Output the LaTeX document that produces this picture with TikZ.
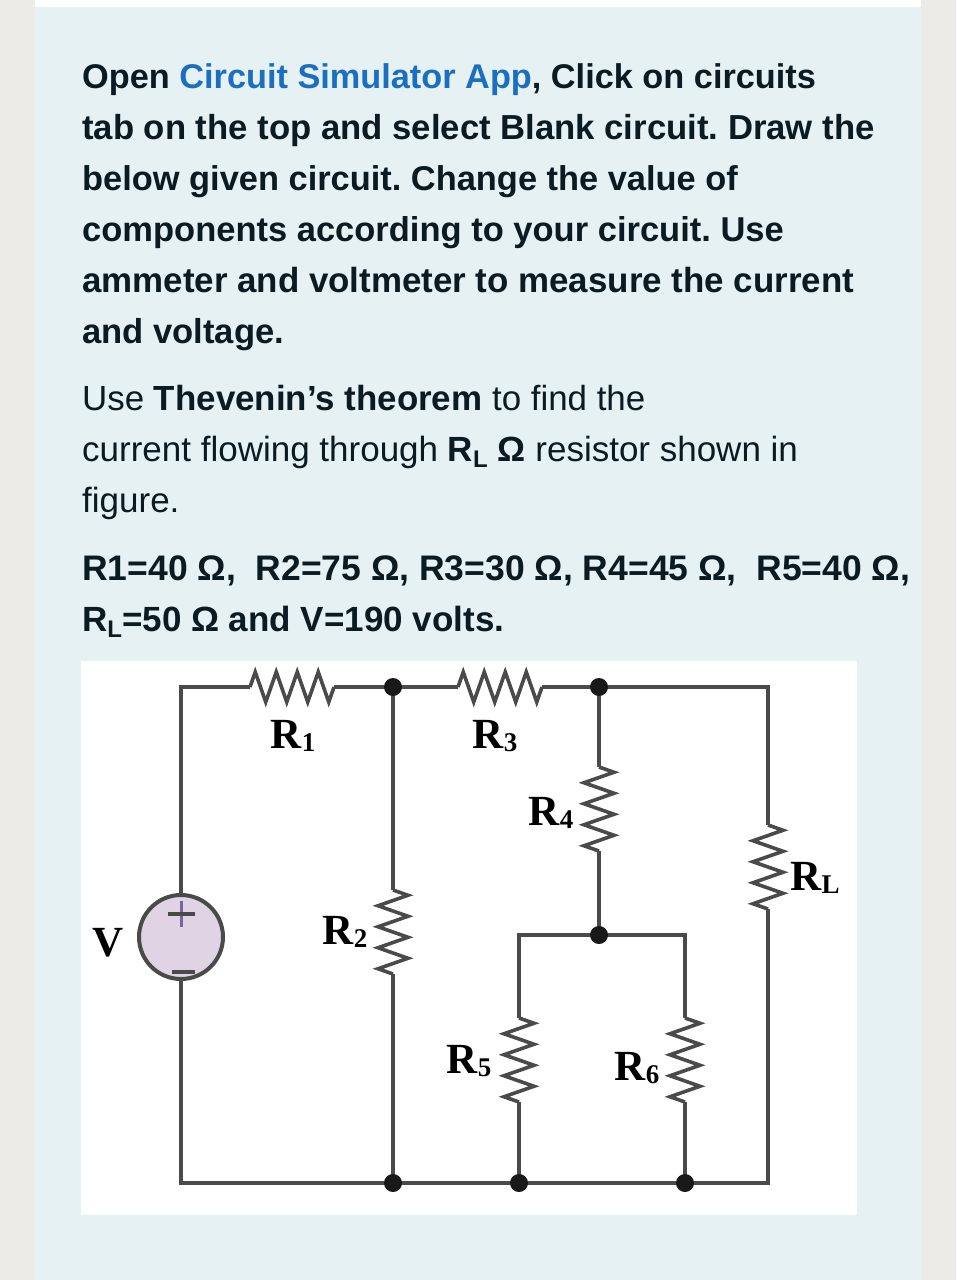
\documentclass[tikz,border=0pt]{standalone}
\usepackage{fontspec}
\setmainfont{Liberation Sans}
\newfontfamily\labelfont{Liberation Serif}
\usetikzlibrary{decorations.pathmorphing}
\frenchspacing
\definecolor{pagegrey}{HTML}{ECEBE7}
\definecolor{panelblue}{HTML}{E6F1F4}
\definecolor{linkblue}{HTML}{1B6FBE}
\definecolor{inkdark}{HTML}{0B1B22}
\definecolor{wiregrey}{HTML}{4A4A4A}
\definecolor{sourcefill}{HTML}{E0D4E4}
\definecolor{plusviolet}{HTML}{7566A0}
\tikzset{
  headline/.style={anchor=base west,inner sep=0pt,font=\fontsize{#1}{36}\selectfont\bfseries,text=inkdark},
  bodyline/.style={anchor=base west,inner sep=0pt,font=\fontsize{#1}{36}\selectfont,text=inkdark},
  wire/.style={draw=wiregrey,line width=4pt,line join=miter},
  zig/.style={draw=wiregrey,line width=3.6pt,decorate,decoration={zigzag,segment length=21pt,amplitude=15pt}},
  junction/.style={circle,fill=black!90,inner sep=0pt,minimum size=18pt},
  complabel/.style={inner sep=0pt,font=\labelfont\fontsize{43}{43}\selectfont\bfseries,text=black},
}
\newcommand{\compsub}[1]{\raisebox{-3pt}{\fontsize{27}{27}\selectfont #1}}
\newcommand{\loadsub}{\raisebox{-6pt}{\fontsize{24}{24}\selectfont L}}
\begin{document}
\begin{tikzpicture}[x=1pt,y=-1pt]
  \useasboundingbox (0,0) rectangle (956,1280);
  \fill[pagegrey] (0,0) rectangle (956,1280);
  \fill[white] (35,0) rectangle (921,7);
  \fill[panelblue] (35,7) rectangle (921,1280);
  \fill[white] (81,661) rectangle (857,1215);

  \node[headline=34.3] (line1) at (82,88) {Open \textcolor{linkblue}{Circuit Simulator App}, Click on circuits};
  \node[headline=34.7] (line2) at (82,139) {tab on the top and select Blank circuit. Draw the};
  \node[headline=34.4] (line3) at (82,190) {below given circuit. Change the value of};
  \node[headline=34.5] (line4) at (82,241) {components according to your circuit. Use};
  \node[headline=34.9] (line5) at (82,292) {ammeter and voltmeter to measure the current};
  \node[headline=34.6] (line6) at (82,343) {and voltage.};
  \node[bodyline=34.9] (line7) at (82,410) {Use \textbf{Thevenin’s theorem} to find the};
  \node[bodyline=35] (line8) at (82,461) {current flowing through \textbf{R\loadsub{} Ω} resistor shown in};
  \node[bodyline=35] (line9) at (82,512) {figure.};
  \node[headline=35.5] (line10) at (82,580) {R1=40 Ω,\ \ R2=75 Ω, R3=30 Ω, R4=45 Ω,\ \ R5=40 Ω,};
  \node[headline=35] (line11) at (82,631) {R\loadsub{}=50 Ω and V=190 volts.};

  \coordinate (topleft) at (181,687);
  \coordinate (topright) at (768,687);
  \coordinate (botleft) at (181,1183);
  \coordinate (botright) at (768,1183);
  \coordinate (boxleft) at (519,935);
  \coordinate (boxright) at (685,935);
  \coordinate (j1) at (393,687);
  \coordinate (j2) at (599,687);
  \coordinate (j3) at (599,935);
  \coordinate (j4) at (393,1183);
  \coordinate (j5) at (519,1183);
  \coordinate (j6) at (685,1183);

  \coordinate (r1a) at (250,687);
  \coordinate (r1b) at (334,687);
  \coordinate (r3a) at (458,687);
  \coordinate (r3b) at (542,687);
  \coordinate (r2a) at (393,890);
  \coordinate (r2b) at (393,974);
  \coordinate (r4a) at (599,767);
  \coordinate (r4b) at (599,851);
  \coordinate (rLa) at (768,825);
  \coordinate (rLb) at (768,909);
  \coordinate (r5a) at (519,1018);
  \coordinate (r5b) at (519,1102);
  \coordinate (r6a) at (685,1018);
  \coordinate (r6b) at (685,1102);

  \node[draw=wiregrey,line width=4pt,fill=sourcefill,circle,inner sep=0pt,minimum size=84pt] (src) at (181,937) {};

  \draw[wire] (src.north) -- (topleft) -- (r1a);
  \draw[wire] (r1b) -- (j1) -- (r3a);
  \draw[wire] (r3b) -- (j2) -- (topright) -- (rLa);
  \draw[wire] (j1) -- (r2a);
  \draw[wire] (r2b) -- (j4);
  \draw[wire] (j2) -- (r4a);
  \draw[wire] (r4b) -- (j3);
  \draw[wire] (rLb) -- (botright) -- (botleft) -- (src.south);
  \draw[wire] (r5a) -- (boxleft) -- (boxright) -- (r6a);
  \draw[wire] (r5b) -- (j5);
  \draw[wire] (r6b) -- (j6);

  \draw[zig] (r1a) -- (r1b);
  \draw[zig] (r3a) -- (r3b);
  \draw[zig] (r2a) -- (r2b);
  \draw[zig] (r4a) -- (r4b);
  \draw[zig] (rLa) -- (rLb);
  \draw[zig] (r5a) -- (r5b);
  \draw[zig] (r6a) -- (r6b);

  \foreach \j in {j1,j2,j3,j4,j5,j6}
    \node[junction] (dot\j) at (\j) {};

  \coordinate (plusw) at (168,914);
  \coordinate (pluse) at (195,914);
  \coordinate (plusn) at (181,901);
  \coordinate (pluss) at (181,927);
  \coordinate (minusw) at (172,972);
  \coordinate (minuse) at (195,972);
  \draw[draw=plusviolet,line width=3pt] (plusn) -- (pluss);
  \draw[draw=wiregrey,line width=3.5pt] (plusw) -- (pluse);
  \draw[draw=wiregrey,line width=4pt] (minusw) -- (minuse);

  \node[complabel] (labV) at (108,943) {V};
  \node[complabel] (labR1) at (293,736) {R\compsub{1}};
  \node[complabel] (labR3) at (495,736) {R\compsub{3}};
  \node[complabel] (labR2) at (345,932) {R\compsub{2}};
  \node[complabel] (labR4) at (551,813) {R\compsub{4}};
  \node[complabel] (labRL) at (815,878) {R\compsub{L}};
  \node[complabel] (labR5) at (469,1061) {R\compsub{5}};
  \node[complabel] (labR6) at (637,1068) {R\compsub{6}};
\end{tikzpicture}
\end{document}
